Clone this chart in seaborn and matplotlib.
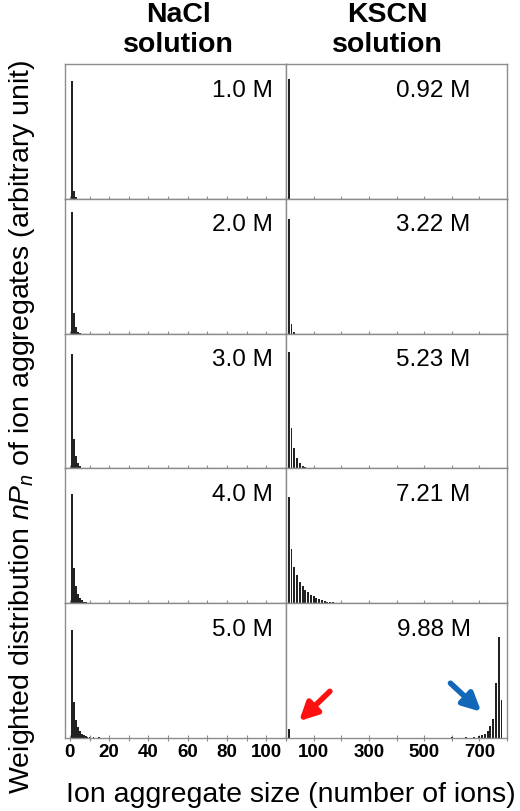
import matplotlib
matplotlib.use("Agg")
import matplotlib.pyplot as plt
import matplotlib.ticker as mticker
import pandas as pd
import seaborn as sns

# ── Data (normalised bar heights) ─────────────────────────────────────────────
nacl_conc = ["1.0 M", "2.0 M", "3.0 M", "4.0 M", "5.0 M"]
kscn_conc = ["0.92 M", "3.22 M", "5.23 M", "7.21 M", "9.88 M"]

nacl_sizes = [1, 2, 3, 4, 5, 6, 7, 8, 9, 10, 12, 15, 20, 30, 40, 50]
nacl_vals = [
    [0.877, 0.060, 0.010, 0, 0, 0, 0, 0, 0, 0, 0, 0, 0, 0, 0, 0],
    [0.905, 0.150, 0.050, 0.012, 0.004, 0, 0, 0, 0, 0, 0, 0, 0, 0, 0, 0],
    [0.850, 0.220, 0.090, 0.040, 0.015, 0.006, 0.003, 0, 0, 0, 0, 0, 0, 0, 0, 0],
    [0.810, 0.260, 0.130, 0.070, 0.040, 0.020, 0.012, 0.006, 0.004, 0.003, 0.002, 0, 0, 0, 0, 0],
    [0.800, 0.270, 0.130, 0.080, 0.050, 0.030, 0.020, 0.012, 0.008, 0.006, 0.004, 0.004, 0.003, 0.003, 0.003, 0.003],
]

kscn_sizes = [10, 20, 30, 40, 50, 60, 70, 80, 90, 100, 110, 120, 130, 140, 150,
              160, 170, 180, 190, 500, 550, 600, 650, 680, 700, 710, 720, 730,
              740, 750, 760, 770, 780]
kscn_vals = [
    [0.890] + [0] * 32,
    [0.850, 0.074, 0.010] + [0] * 30,
    [0.860, 0.300, 0.150, 0.080, 0.040, 0.020, 0.010, 0.005] + [0] * 25,
    [0.790, 0.400, 0.270, 0.210, 0.160, 0.124, 0.100, 0.080, 0.062, 0.050,
     0.037, 0.030, 0.022, 0.017, 0.012, 0.008, 0.005, 0.003, 0.002] + [0] * 14,
    [0.067] + [0] * 18 + [0.003, 0.003, 0.004, 0.006, 0.010, 0.015, 0.020,
                          0.030, 0.050, 0.090, 0.140, 0.410, 0.750, 0.280],
]

BAR_COLOR = "#222222"
SPINE_COLOR = "#8c8c8c"

sns.set_theme(style="white")
plt.rcParams["font.family"] = ["Liberation Sans", "DejaVu Sans"]
plt.rcParams["text.color"] = "black"
plt.rcParams["xtick.labelcolor"] = "black"
plt.rcParams["mathtext.fontset"] = "custom"
plt.rcParams["mathtext.rm"] = "Liberation Sans"
plt.rcParams["mathtext.it"] = "Liberation Sans:italic"

fig, axes = plt.subplots(5, 2, figsize=(5.2, 8.12), dpi=100, sharex="col")
fig.subplots_adjust(left=0.125, right=0.975, top=0.92, bottom=0.09, hspace=0, wspace=0)


def style_ax(ax):
    for sp in ax.spines.values():
        sp.set_color(SPINE_COLOR)
        sp.set_linewidth(1.0)
    ax.set_ylim(0, 1)
    ax.set_yticks([])
    ax.set_ylabel("")
    ax.set_xlabel("")
    ax.tick_params(axis="x", which="both", direction="inout", length=4,
                   color=SPINE_COLOR, width=0.8, labelsize=13.5, pad=2,
                   labelcolor="black", bottom=True)


for row in range(5):
    ax = axes[row, 0]
    df = pd.DataFrame({"size": nacl_sizes, "val": nacl_vals[row]})
    sns.histplot(data=df, x="size", weights="val", binwidth=1, binrange=(0.5, 110.5),
                 shrink=0.9, color=BAR_COLOR, alpha=1, linewidth=0, ax=ax)
    ax.set_xlim(-2.5, 110)
    ax.xaxis.set_major_locator(mticker.FixedLocator([0, 20, 40, 60, 80, 100]))
    ax.xaxis.set_minor_locator(mticker.FixedLocator([10, 30, 50, 70, 90]))
    style_ax(ax)
    ax.text(0.94, 0.81, nacl_conc[row], transform=ax.transAxes, ha="right",
            va="center", fontsize=17.5)

    ax = axes[row, 1]
    df = pd.DataFrame({"size": kscn_sizes, "val": kscn_vals[row]})
    sns.histplot(data=df, x="size", weights="val", binwidth=10, binrange=(5, 795),
                 shrink=0.7, color=BAR_COLOR, alpha=1, linewidth=0, ax=ax)
    ax.set_xlim(0, 800)
    ax.xaxis.set_major_locator(mticker.FixedLocator([100, 300, 500, 700]))
    ax.xaxis.set_minor_locator(mticker.FixedLocator([0, 200, 400, 600, 800]))
    style_ax(ax)
    ax.text(0.835, 0.81, kscn_conc[row], transform=ax.transAxes, ha="right",
            va="center", fontsize=17.5)

for ax in axes[-1]:
    for lbl in ax.get_xticklabels():
        lbl.set_fontweight("bold")

# arrows marking the two populations at 9.88 M
ax = axes[4, 1]
ax.annotate("", xy=(40, 0.11), xytext=(166, 0.36),
            arrowprops=dict(arrowstyle="-|>,head_length=0.9,head_width=0.45",
                            color="#ff1010", lw=4))
ax.annotate("", xy=(714, 0.18), xytext=(588, 0.42),
            arrowprops=dict(arrowstyle="-|>,head_length=0.9,head_width=0.45",
                            color="#1268b8", lw=4))

fig.text(178 / 520, 1 - 30 / 812, "NaCl\nsolution", ha="center", va="center",
         fontsize=20.5, fontweight="bold")
fig.text(387 / 520, 1 - 30 / 812, "KSCN\nsolution", ha="center", va="center",
         fontsize=20.5, fontweight="bold")
fig.text(291 / 520, 1 - 795 / 812, "Ion aggregate size (number of ions)",
         ha="center", va="center", fontsize=20.5)
fig.text(22 / 520, 1 - 427 / 812,
         r"Weighted distribution $nP_n$ of ion aggregates (arbitrary unit)",
         ha="center", va="center", rotation=90, fontsize=20.5)

fig.savefig("out.png", dpi=100)
